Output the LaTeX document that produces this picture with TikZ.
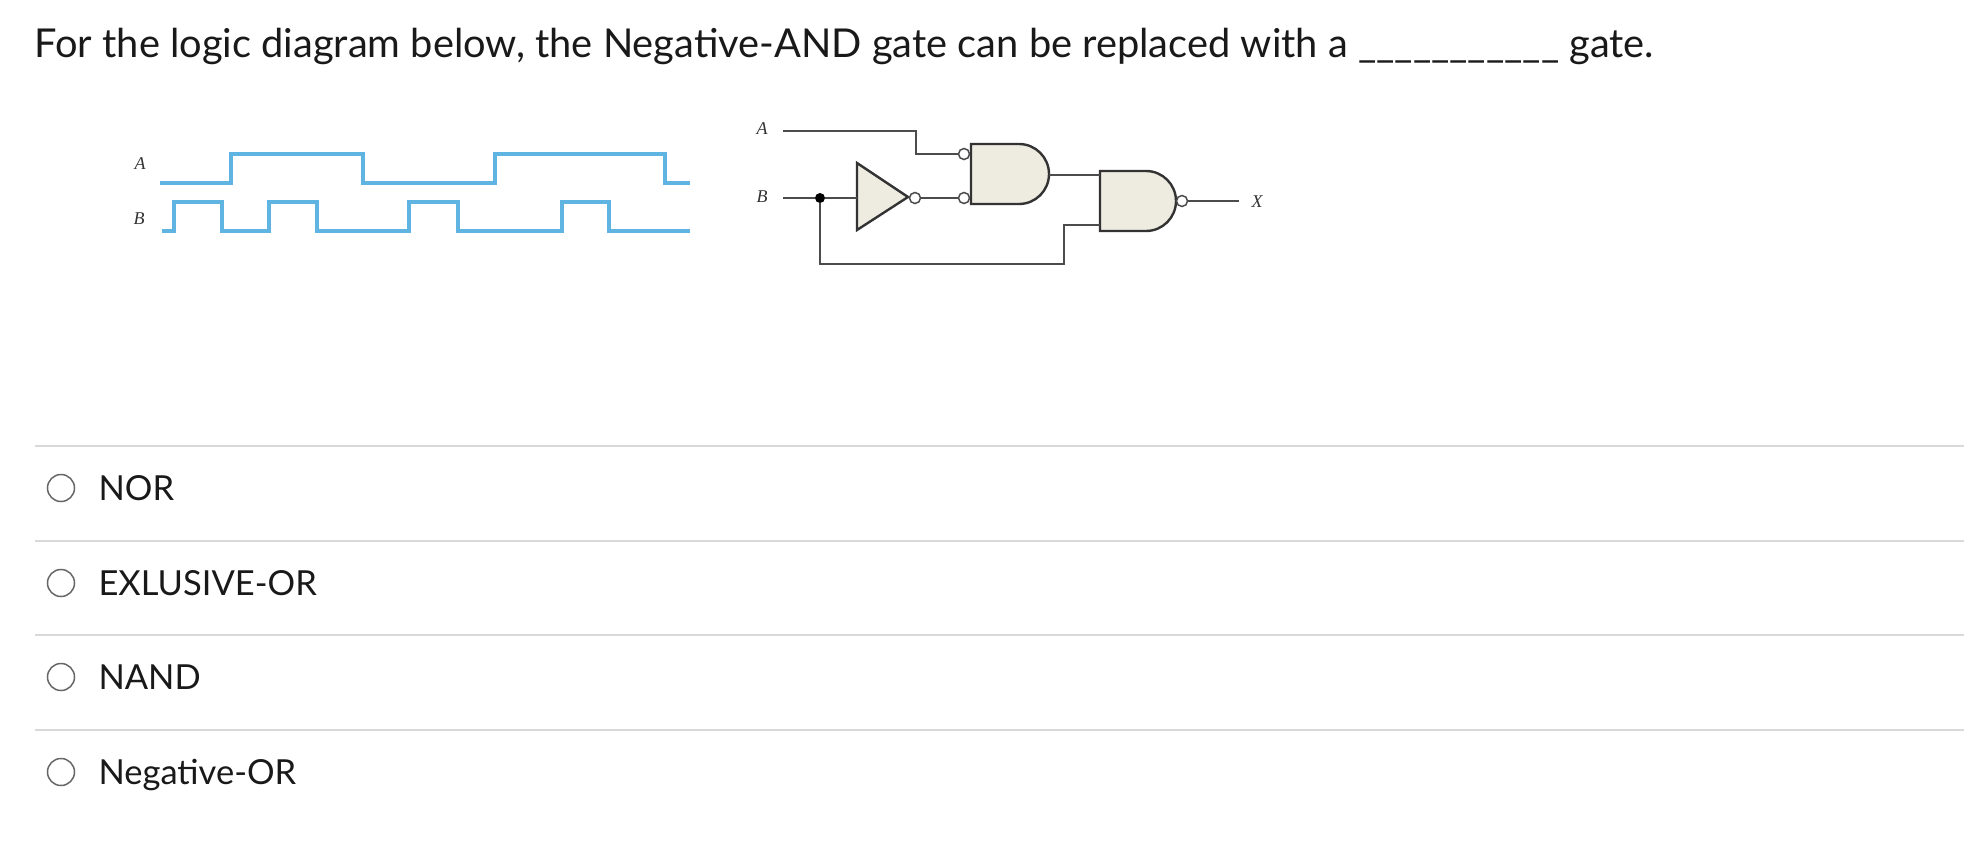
\documentclass[tikz,border=0pt]{standalone}
\usepackage{fontspec}
\setmainfont{Lato}
\newfontfamily\labfont{Liberation Serif}
\begin{document}
\begin{tikzpicture}[x=1pt,y=-1pt,
  wire/.style={draw=black!70,line width=2pt},
  wave/.style={draw=wblue,line width=3.2pt},
  gatefill/.style={fill=gfill,draw=black!80,line width=2.4pt},
  bub/.style={circle,draw=black!70,fill=white,line width=1.5pt,minimum size=11pt,inner sep=0pt},
  lab/.style={font=\labfont\fontsize{18}{20}\selectfont\itshape,text=black!80},
  opt/.style={anchor=base west,font=\fontsize{34.5}{40}\selectfont,text=black!90},
  radio/.style={circle,draw=black!60,line width=1.5pt,minimum size=27pt,inner sep=0pt},
  sep/.style={draw=black!15,line width=1.2pt}]
\definecolor{wblue}{RGB}{95,180,225}
\definecolor{gfill}{RGB}{238,235,224}
\useasboundingbox (0,0) rectangle (1981,865);
\node[anchor=base west,font=\fontsize{39.8}{44}\selectfont,text=black!90] (title) at (31,57)
 {For the logic diagram below, the Negative-AND gate can be replaced with a \textunderscore\textunderscore\textunderscore\textunderscore\textunderscore\textunderscore\textunderscore\textunderscore\textunderscore\textunderscore\textunderscore\ gate.};
% waveforms
\node[lab] (la) at (140,164) {A};
\node[lab] (lb) at (139,219) {B};
\draw[wave] (160,183)--(231,183)--(231,154)--(363,154)--(363,183)--(495,183)--(495,154)--(665,154)--(665,183)--(690,183);
\draw[wave] (162,231)--(174,231)--(174,202)--(222,202)--(222,231)--(269,231)--(269,202)--(317,202)--(317,231)--(409,231)--(409,202)--(458,202)--(458,231)--(562,231)--(562,202)--(609,202)--(609,231)--(690,231);
% circuit
\node[lab] (ca) at (762,129) {A};
\node[lab] (cb) at (762,197) {B};
\node[lab] (cx) at (1257,202) {X};
\coordinate (ain) at (783,131);
\coordinate (bin) at (783,198);
\coordinate (xout) at (1239,201);
\draw[gatefill] (857,163)--(908,197)--(857,230)--cycle;
\node[bub] (ib) at (915,198) {};
\draw[gatefill] (971,144)--(1019,144) arc[start angle=-90,end angle=90,radius=30]--(971,204)--cycle;
\draw[gatefill] (1100,171)--(1146,171) arc[start angle=-90,end angle=90,radius=30]--(1100,231)--cycle;
\node[bub] (b1) at (964,154) {};
\node[bub] (b2) at (964,198) {};
\node[bub] (ob) at (1182,201) {};
\node[circle,fill=black,inner sep=0pt,minimum size=10pt] (dot) at (820,198) {};
\draw[wire] (ain)--(916,131)--(916,154)--(b1.west);
\draw[wire] (bin)--(dot)--(857,198);
\draw[wire] (ib.east)--(b2.west);
\draw[wire] (1049,175)--(1100,175);
\draw[wire] (dot)--(820,264)--(1064,264)--(1064,225)--(1100,225);
\draw[wire] (ob.east)--(xout);
% options
\foreach \y/\t/\n in {500/NOR/o1,595/EXLUSIVE-OR/o2,689/NAND/o3,784/Negative-OR/o4}{
  \node[radio] (r\n) at (61,\y-12) {};
  \node[opt] (t\n) at (95,\y) {\t};
}
\foreach \y in {446,541,635,730}{\draw[sep] (35,\y)--(1964,\y);}
\end{tikzpicture}
\end{document}
